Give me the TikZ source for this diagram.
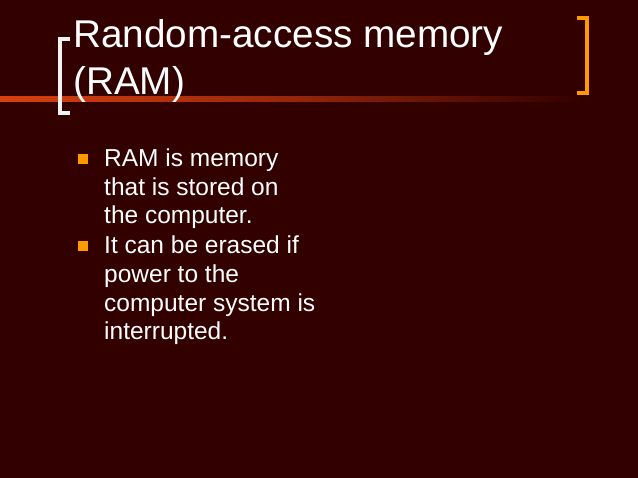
\documentclass[tikz,border=0pt]{standalone}
\usepackage{fontspec}
\setmainfont{Liberation Sans}
\definecolor{bg}{HTML}{330000}
\definecolor{orng}{HTML}{FF9900}
\definecolor{redline}{HTML}{D84010}
\begin{document}
\begin{tikzpicture}[x=1pt,y=-1pt,
  txt/.style={anchor=base west,inner sep=0pt,text=white,font=\fontsize{24.5}{29}\selectfont},
  ttl/.style={anchor=base west,inner sep=0pt,text=white,font=\fontsize{38.7}{46}\selectfont},
  bul/.style={fill=orng,minimum size=9.5pt,inner sep=0pt}]
\fill[bg] (0,0) rectangle (638,478);
\useasboundingbox (0,0) rectangle (638,478);
\shade[left color=redline,right color=bg,middle color=redline!60!bg] (0,96.5) rectangle (580,101.5);
\draw[white!90!gray,line width=4pt] (70,39) -- (60,39) -- (60,113) -- (70,113);
\draw[orng,line width=4pt] (577,18) -- (587,18) -- (587,93) -- (577,93);
\node[ttl] (t1) at (73,48) {Random-access memory};
\node[ttl] (t2) at (73,95) {(RAM)};
\node[bul] (b1) at (83,159) {};
\node[txt] (p1a) at (104,167) {RAM is memory};
\node[txt] (p1b) at (104,196) {that is stored on};
\node[txt] (p1c) at (104,224) {the computer.};
\node[bul] (b2) at (83,246) {};
\node[txt] (p2a) at (104,254) {It can be erased if};
\node[txt] (p2b) at (104,283) {power to the};
\node[txt] (p2c) at (104,312) {computer system is};
\node[txt] (p2d) at (104,340) {interrupted.};
\end{tikzpicture}
\end{document}
